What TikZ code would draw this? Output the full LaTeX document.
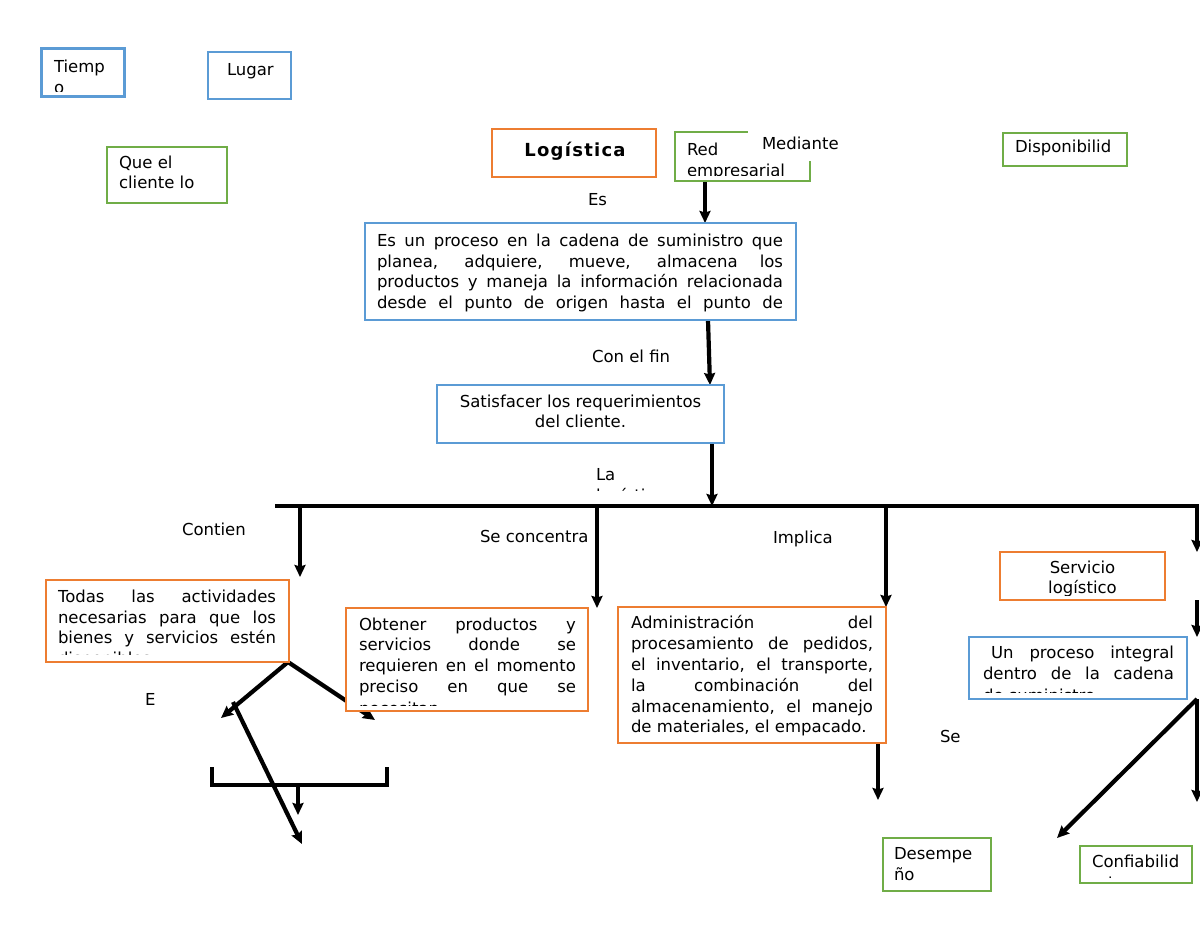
\documentclass[tikz,border=0pt]{standalone}
\usepackage{fontspec}
\setmainfont{DejaVu Sans}
\newfontfamily\logofont[LetterSpace=7]{DejaVu Sans}
\usetikzlibrary{arrows.meta,calc}
\definecolor{cblue}{HTML}{5B9BD5}
\definecolor{corange}{HTML}{ED7D31}
\definecolor{cgreen}{HTML}{70AD47}
\pgfdeclarelayer{bg}
\pgfsetlayers{bg,main}
\newcommand{\mkbox}[6]{\node[#1, minimum width={(#4)-(#2)}, minimum height={(#5)-(#3)}] (#6) at (#2,#3) {};}
\newcommand{\jl}[2]{\makebox[#1pt][s]{#2}}
\begin{document}
\begin{tikzpicture}[x=1pt,y=-1pt,
  every node/.style={inner sep=0pt, outer sep=0pt},
  txt/.style={anchor=base west, font=\fontsize{16.5}{20}\selectfont, text=black},
  ctxt/.style={txt, anchor=base},
  boxb/.style={draw=cblue, line width=2.5pt, fill=white, anchor=north west, rectangle},
  boxo/.style={draw=corange, line width=2.8pt, fill=white, anchor=north west, rectangle},
  boxg/.style={draw=cgreen, line width=1.5pt, fill=white, anchor=north west, rectangle},
  arr/.style={line width=4.2pt, line join=miter, -{Stealth[length=12pt,width=11pt,inset=1.5pt]}},
  brk/.style={line width=3.4pt},
]
\useasboundingbox (0,0) rectangle (1200,927);

% ---------- boxes ----------
\mkbox{boxb, line width=3pt}{41}{48}{124}{96}{tiempo}
\mkbox{boxb}{208}{52}{291}{99}{lugar}
\mkbox{boxg}{107}{147}{227}{203}{quecl}
\mkbox{boxo}{492}{129}{656}{177}{logis}
\mkbox{boxg, line width=2.5pt}{675}{132}{810}{181}{red}
\mkbox{boxg}{1003}{133}{1127}{166}{dispo}
\mkbox{boxb}{365}{223}{796}{320}{esun}
\mkbox{boxb}{437}{385}{724}{443}{sat}
\mkbox{boxo}{46}{580}{289}{662}{todas}
\mkbox{boxo}{346}{608}{588}{711}{obt}
\mkbox{boxo}{618}{607}{886}{743}{adm}
\mkbox{boxo}{1000}{552}{1165}{600}{serv}
\mkbox{boxb}{969}{637}{1187}{699}{unp}
\mkbox{boxg}{883}{838}{991}{891}{desem}
\mkbox{boxg}{1080}{846}{1192}{883}{conf}

\fill[white] (748,122) rectangle (850,161);

% ---------- coordinates ----------
\coordinate (barL) at (275,506);
\coordinate (barR) at (1197,506);
\coordinate (b1) at (300,506);
\coordinate (e1) at (300,577);
\coordinate (b2) at (597,506);
\coordinate (e2) at (597,608);
\coordinate (b3) at (712,506);
\coordinate (b4) at (886,506);
\coordinate (e5) at (878,800);
\coordinate (tl) at (221,718);
\coordinate (tr) at (375,720);
\coordinate (dA) at (233,702);
\coordinate (dB) at (302,844);
\coordinate (brL) at (212,767);
\coordinate (brR) at (387,767);
\coordinate (brM) at (298,785);
\coordinate (brE) at (298,815);
\coordinate (rEnd) at (1197,802);
\coordinate (dEnd) at (1057,838);

% ---------- connectors ----------
\begin{pgfonlayer}{bg}
\draw[arr] ([xshift=30pt]red.south west) -- ([xshift=340pt]esun.north west);
\draw[arr] ([xshift=343pt]esun.south west) -- ([xshift=273pt]sat.north west);
\draw[arr] ([xshift=275pt]sat.south west) -- (b3);
\draw[arr] (barL) -- (barR) -- (serv.north -| barR);
\draw[arr] (b1) -- (e1);
\draw[arr] (b2) -- (e2);
\draw[arr] (b4) -- (adm.north east);
\draw[arr] ([xshift=260pt]adm.south west) -- (e5);
\draw[arr] (serv.south -| barR) -- (unp.north -| barR);
\draw[arr] (unp.south -| barR) -- (rEnd);
\draw[arr] (unp.south -| barR) -- (dEnd);
\draw[arr] ([xshift=-1pt]todas.south east) -- (tl);
\draw[arr] ([xshift=-1pt]todas.south east) -- (tr);
\draw[arr] (dA) -- (dB);
\draw[brk] (brL) |- (brM) -| (brR);
\draw[arr] (brM) -- (brE);
\end{pgfonlayer}

% ---------- texts ----------
\node[txt] (tT1) at (54,72) {Tiemp};
\begin{scope}
\clip (41,48) rectangle (124,91);
\node[txt] (tT2) at (54,93) {o};
\end{scope}
\node[txt] (tL) at (227,75) {Lugar};
\node[txt] (tQ1) at (119,168) {Que el};
\node[txt] (tQ2) at (119,188) {cliente lo};
\node[ctxt, font=\logofont\bfseries\fontsize{18}{20}\selectfont] (tLog) at (575,156) {Logística};
\node[txt] (tR1) at (687,155) {Red};
\begin{scope}
\clip (675,132) rectangle (810,175.5);
\node[txt] (tR2) at (687,176) {empresarial};
\end{scope}
\node[txt] (tMed) at (762,149) {Mediante};
\node[txt] (tEs) at (588,205) {Es};
\node[txt] (tD) at (1015,152) {Disponibilid};

\node[txt] (tE1) at (377,246) {\jl{406}{Es un proceso en la cadena de suministro que}};
\node[txt] (tE2) at (377,267) {\jl{406}{planea, adquiere, mueve, almacena los}};
\node[txt] (tE3) at (377,287) {\jl{406}{productos y maneja la información relacionada}};
\node[txt] (tE4) at (377,308) {\jl{406}{desde el punto de origen hasta el punto de}};

\node[txt] (tCon) at (592,362) {Con el fin};
\node[ctxt] (tS1) at (580.5,407) {Satisfacer los requerimientos};
\node[ctxt] (tS2) at (580.5,427) {del cliente.};

\node[txt] (tLa) at (596,480) {La};
\begin{scope}
\clip (560,470) rectangle (700,490.5);
\node[txt] (tLa2) at (596,501) {logística};
\end{scope}

\node[txt] (tCont) at (182,535) {Contien};
\node[txt] (tSec) at (480,542) {Se concentra};
\node[txt] (tImp) at (773,543) {Implica};
\node[txt] (tE) at (145,705) {E};
\node[txt] (tSe) at (940,742) {Se};

\node[txt] (tA1) at (58,602) {\jl{218}{Todas las actividades}};
\node[txt] (tA2) at (58,623) {\jl{218}{necesarias para que los}};
\node[txt] (tA3) at (58,643) {\jl{218}{bienes y servicios estén}};
\begin{scope}
\clip (46,580) rectangle (289,654.5);
\node[txt] (tA4) at (58,664) {disponibles};
\end{scope}

\node[txt] (tO1) at (359,630) {\jl{217}{Obtener productos y}};
\node[txt] (tO2) at (359,650) {\jl{217}{servicios donde se}};
\node[txt] (tO3) at (359,671) {\jl{217}{requieren en el momento}};
\node[txt] (tO4) at (359,692) {\jl{217}{preciso en que se}};
\begin{scope}
\clip (346,608) rectangle (588,705);
\node[txt] (tO5) at (359,714) {necesitan};
\end{scope}

\node[txt] (tM1) at (631,628) {\jl{242}{Administración del}};
\node[txt] (tM2) at (631,649) {\jl{242}{procesamiento de pedidos,}};
\node[txt] (tM3) at (631,670) {\jl{242}{el inventario, el transporte,}};
\node[txt] (tM4) at (631,691) {\jl{242}{la combinación del}};
\node[txt] (tM5) at (631,712) {\jl{242}{almacenamiento, el manejo}};
\node[txt] (tM6) at (631,732) {de materiales, el empacado.};

\node[ctxt] (tV1) at (1082.5,573) {Servicio};
\begin{scope}
\clip (1000,552) rectangle (1165,595);
\node[ctxt] (tV2) at (1082.5,593) {logístico};
\end{scope}

\node[txt] (tU1) at (991,658) {\jl{183}{Un proceso integral}};
\node[txt] (tU2) at (983,679) {\jl{191}{dentro de la cadena}};
\begin{scope}
\clip (969,637) rectangle (1187,692.5);
\node[txt] (tU3) at (983,701) {de suministro};
\end{scope}

\node[txt] (tDe1) at (894,859) {Desempe};
\node[txt] (tDe2) at (894,880) {ño};
\node[txt] (tC1) at (1092,867) {Confiabilid};
\begin{scope}
\clip (1080,846) rectangle (1192,877.5);
\node[txt] (tC2) at (1092,889) {ad};
\end{scope}
\end{tikzpicture}
\end{document}
